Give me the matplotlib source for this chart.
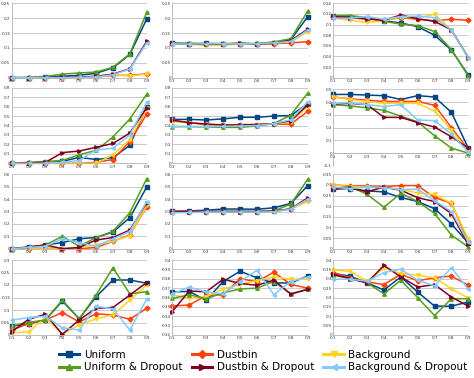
import matplotlib
matplotlib.use("Agg")
import matplotlib.pyplot as plt
from matplotlib.lines import Line2D

x = [0.1, 0.2, 0.3, 0.4, 0.5, 0.6, 0.7, 0.8, 0.9]
x_labels = ["0.1", "0.2", "0.3", "0.4", "0.5", "0.6", "0.7", "0.8", "0.9"]

# one row per panel, row-major (r1c1, r1c2, r1c3, r2c1, ...)
uniform = [
    [0, 0, 0.002, 0.005, 0.008, 0.015, 0.033, 0.078, 0.197],
    [0.116, 0.114, 0.115, 0.114, 0.113, 0.114, 0.117, 0.128, 0.205],
    [0.117, 0.115, 0.113, 0.107, 0.103, 0.096, 0.080, 0.052, 0.005],
    [0, 0, 0.005, 0.02, 0.063, 0.04, 0.06, 0.19, 0.60],
    [0.464, 0.465, 0.458, 0.47, 0.487, 0.487, 0.50, 0.505, 0.63],
    [0.46, 0.46, 0.455, 0.45, 0.42, 0.45, 0.44, 0.32, 0.04],
    [0, 0.01, 0.03, 0.05, 0.08, 0.09, 0.135, 0.25, 0.497],
    [0.301, 0.305, 0.31, 0.32, 0.32, 0.318, 0.33, 0.365, 0.508],
    [0.283, 0.283, 0.272, 0.267, 0.241, 0.222, 0.188, 0.116, 0.027],
    [0.035, 0.045, 0.06, 0.136, 0.065, 0.153, 0.22, 0.22, 0.207],
    [0.366, 0.3665, 0.357, 0.377, 0.388, 0.381, 0.3755, 0.3755, 0.383],
    [0.328, 0.314, 0.278, 0.24, 0.31, 0.229, 0.154, 0.154, 0.176],
]
dustbin = [
    [0, 0, 0, 0, 0.001, 0.002, 0.008, 0.008, 0.013],
    [0.114, 0.113, 0.112, 0.112, 0.113, 0.112, 0.114, 0.117, 0.121],
    [0.114, 0.113, 0.110, 0.108, 0.113, 0.110, 0.107, 0.110, 0.108],
    [0, 0, 0, 0, 0, 0.01, 0.04, 0.23, 0.52],
    [0.455, 0.43, 0.41, 0.405, 0.41, 0.41, 0.415, 0.413, 0.55],
    [0.44, 0.425, 0.415, 0.405, 0.405, 0.405, 0.375, 0.2, 0.03],
    [0, 0, 0.01, 0, 0, 0.01, 0.06, 0.11, 0.34],
    [0.3, 0.3, 0.3, 0.3, 0.3, 0.298, 0.302, 0.32, 0.39],
    [0.3, 0.295, 0.295, 0.292, 0.297, 0.297, 0.241, 0.214, 0.035],
    [0.02, 0.045, 0.06, 0.09, 0.052, 0.085, 0.08, 0.063, 0.107],
    [0.351, 0.352, 0.362, 0.363, 0.38, 0.377, 0.387, 0.374, 0.37],
    [0.333, 0.305, 0.283, 0.269, 0.324, 0.289, 0.306, 0.314, 0.265],
]
background = [
    [0, 0, 0, 0, 0.001, 0.002, 0.01, 0.006, 0.012],
    [0.113, 0.112, 0.108, 0.110, 0.112, 0.113, 0.116, 0.12, 0.155],
    [0.112, 0.108, 0.104, 0.107, 0.114, 0.113, 0.119, 0.09, 0.038],
    [0, 0, 0, 0, 0, 0, 0.09, 0.25, 0.58],
    [0.442, 0.43, 0.415, 0.40, 0.40, 0.405, 0.415, 0.44, 0.60],
    [0.44, 0.42, 0.405, 0.39, 0.39, 0.39, 0.33, 0.18, 0.02],
    [0, 0, 0.01, 0, 0.01, 0.03, 0.06, 0.105, 0.35],
    [0.3, 0.298, 0.298, 0.298, 0.298, 0.298, 0.3, 0.318, 0.382],
    [0.3, 0.292, 0.29, 0.285, 0.28, 0.262, 0.255, 0.214, 0.045],
    [0.01, 0.012, 0.07, 0.003, 0.04, 0.065, 0.08, 0.14, 0.2],
    [0.363, 0.359, 0.361, 0.369, 0.374, 0.378, 0.382, 0.3795, 0.3795],
    [0.346, 0.34, 0.287, 0.358, 0.328, 0.319, 0.305, 0.247, 0.197],
]
uniform_dropout = [
    [0, 0.001, 0.004, 0.012, 0.016, 0.019, 0.035, 0.08, 0.22],
    [0.116, 0.116, 0.114, 0.115, 0.115, 0.115, 0.12, 0.131, 0.224],
    [0.117, 0.117, 0.113, 0.106, 0.101, 0.098, 0.087, 0.053, 0.003],
    [0, 0.01, 0.02, 0.03, 0.09, 0.137, 0.278, 0.47, 0.73],
    [0.388, 0.388, 0.385, 0.38, 0.38, 0.395, 0.42, 0.51, 0.743],
    [0.38, 0.37, 0.355, 0.335, 0.29, 0.245, 0.137, 0.04, 0.0],
    [0, 0.01, 0.03, 0.1, 0.02, 0.09, 0.14, 0.29, 0.565],
    [0.295, 0.295, 0.3, 0.3, 0.3, 0.3, 0.305, 0.36, 0.56],
    [0.284, 0.292, 0.256, 0.195, 0.261, 0.222, 0.166, 0.064, 0.008],
    [0.036, 0.05, 0.06, 0.14, 0.064, 0.16, 0.269, 0.165, 0.173],
    [0.359, 0.363, 0.3586, 0.365, 0.369, 0.370, 0.377, 0.364, 0.369],
    [0.319, 0.301, 0.278, 0.22, 0.292, 0.199, 0.104, 0.1935, 0.1935],
]
dustbin_dropout = [
    [0, 0, 0, 0.001, 0.002, 0.005, 0.012, 0.03, 0.122],
    [0.115, 0.113, 0.113, 0.113, 0.116, 0.113, 0.116, 0.125, 0.163],
    [0.115, 0.113, 0.111, 0.108, 0.118, 0.111, 0.106, 0.09, 0.038],
    [0, 0.005, 0.01, 0.113, 0.13, 0.169, 0.21, 0.32, 0.59],
    [0.455, 0.43, 0.415, 0.405, 0.405, 0.41, 0.42, 0.45, 0.62],
    [0.385, 0.39, 0.38, 0.281, 0.28, 0.24, 0.204, 0.129, 0.04],
    [0, 0.015, 0.03, 0, 0.01, 0.07, 0.09, 0.15, 0.37],
    [0.3, 0.3, 0.3, 0.3, 0.3, 0.3, 0.302, 0.322, 0.41],
    [0.28, 0.285, 0.268, 0.29, 0.275, 0.24, 0.222, 0.165, 0.02],
    [0.013, 0.063, 0.083, 0.003, 0.06, 0.107, 0.11, 0.16, 0.21],
    [0.345, 0.367, 0.366, 0.3795, 0.375, 0.373, 0.3785, 0.3636, 0.3686],
    [0.323, 0.301, 0.278, 0.371, 0.31, 0.256, 0.269, 0.2025, 0.154],
]
background_dropout = [
    [0, 0, 0, 0, 0.001, 0.003, 0.01, 0.029, 0.117],
    [0.114, 0.113, 0.114, 0.114, 0.114, 0.114, 0.117, 0.122, 0.16],
    [0.112, 0.112, 0.115, 0.110, 0.115, 0.116, 0.113, 0.09, 0.038],
    [0, 0, 0, 0.01, 0.03, 0.14, 0.16, 0.3, 0.644],
    [0.39, 0.39, 0.39, 0.39, 0.395, 0.40, 0.42, 0.46, 0.65],
    [0.39, 0.395, 0.38, 0.365, 0.38, 0.26, 0.255, 0.15, 0.01],
    [0, 0.01, 0.02, 0.08, 0.05, 0.02, 0.08, 0.14, 0.38],
    [0.29, 0.292, 0.296, 0.296, 0.296, 0.296, 0.298, 0.32, 0.40],
    [0.29, 0.283, 0.29, 0.287, 0.278, 0.28, 0.225, 0.175, 0.03],
    [0.059, 0.07, 0.075, 0.029, 0.02, 0.115, 0.105, 0.02, 0.143],
    [0.364, 0.371, 0.366, 0.364, 0.377, 0.389, 0.363, 0.377, 0.382],
    [0.2975, 0.2975, 0.287, 0.333, 0.351, 0.292, 0.262, 0.358, 0.244],
]

# y axis (min, max, step) per panel
y_ranges = [
    (0, 0.25, 0.05), (0, 0.25, 0.05), (0, 0.14, 0.02),
    (0, 0.8, 0.1), (0, 0.8, 0.1), (-0.1, 0.5, 0.1),
    (0, 0.6, 0.1), (0, 0.6, 0.1), (0, 0.35, 0.05),
    (0, 0.3, 0.05), (0.32, 0.4, 0.01), (0, 0.4, 0.05),
]

series_names = ["Uniform", "Dustbin", "Background",
                "Uniform & Dropout", "Dustbin & Dropout", "Background & Dropout"]
series_data = [uniform, dustbin, background,
               uniform_dropout, dustbin_dropout, background_dropout]
colors = ["#004586", "#ff420e", "#ffd320", "#579d1c", "#7e0021", "#83caff"]
markers = ["s", "D", "v", "^", ">", "<"]

W, H = 474, 378
fig = plt.figure(figsize=(W / 100, H / 100), dpi=100)

col_x = [(11.7, 146.7), (172.3, 307.7), (333.3, 468.3)]
row_y = [(3.3, 77.7), (87.7, 163.3), (174.3, 248.7), (260, 335)]

for p in range(12):
    r, c = p // 3, p % 3
    x0, x1 = col_x[c]
    y0, y1 = row_y[r]
    if p == 5:
        y0, y1 = 89.3, 166
    ax = fig.add_axes([x0 / W, 1 - y1 / H, (x1 - x0) / W, (y1 - y0) / H])

    lo, hi, step = y_ranges[p]
    n = int(round((hi - lo) / step))
    ticks = [round(lo + i * step, 4) for i in range(n + 1)]
    ax.set_ylim(lo, hi)
    ax.set_yticks(ticks)
    ax.set_yticklabels(["%g" % t for t in ticks])
    ax.set_xlim(0.1, 0.9)
    ax.set_xticks(x)
    ax.set_xticklabels(x_labels)

    ax.grid(axis="y", color="#b3b3b3", linewidth=0.5)
    ax.set_axisbelow(True)
    for s in ["top", "right"]:
        ax.spines[s].set_visible(False)
    for s in ["left", "bottom"]:
        ax.spines[s].set_color("#b3b3b3")
        ax.spines[s].set_linewidth(0.6)
    if lo < 0:
        ax.spines["bottom"].set_position(("data", 0))
    ax.tick_params(length=0, labelsize=3, colors="#333333", pad=1)

    for k in range(6):
        ax.plot(x, series_data[k][p], color=colors[k], marker=markers[k],
                markersize=2.5, linewidth=1.1, clip_on=False)

handles = [Line2D([], [], color=colors[k], marker=markers[k], markersize=4,
                  linewidth=2.2) for k in range(6)]
order = [0, 3, 1, 4, 2, 5]
fig.legend([handles[i] for i in order], [series_names[i] for i in order],
           ncol=3, loc="lower center", bbox_to_anchor=(0.555, -0.01),
           frameon=False, fontsize=7.5, handlelength=2.0, handletextpad=0.4,
           columnspacing=0.9, labelspacing=0.25)

fig.savefig("out.png", dpi=100)
